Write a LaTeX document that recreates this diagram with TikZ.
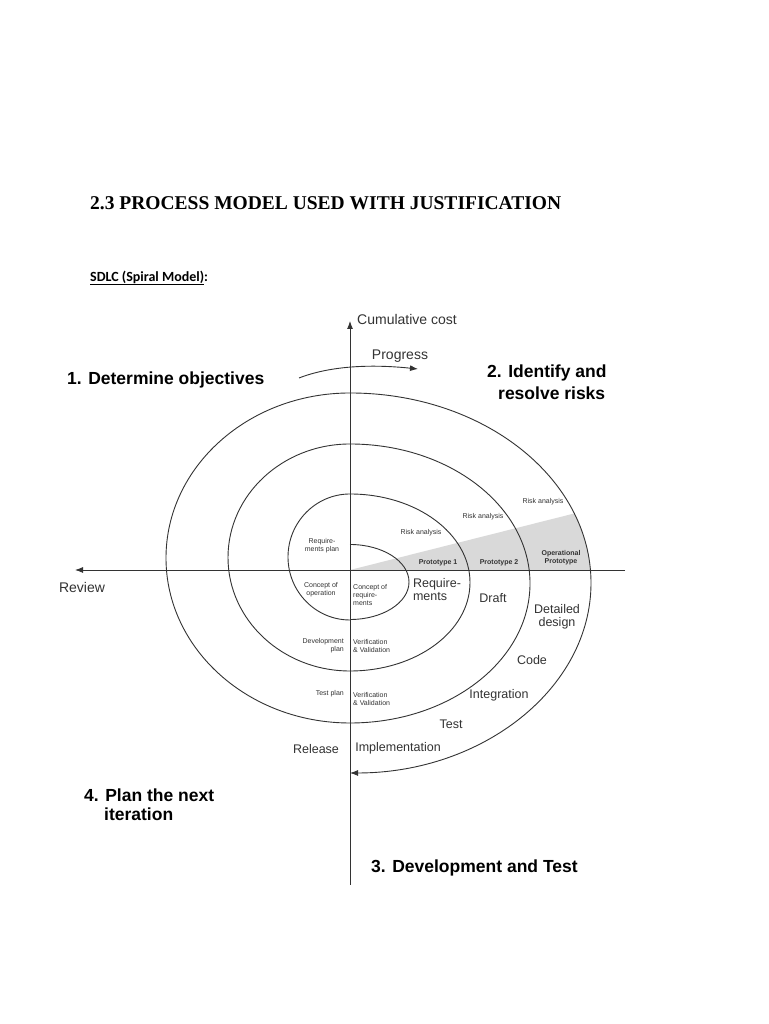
\documentclass[tikz,border=0pt]{standalone}
\usepackage{fontspec}
\setmainfont{Liberation Sans}
\newfontfamily\serifbf{Liberation Serif}
\newfontfamily\calib{Carlito}
\usetikzlibrary{arrows.meta}
\begin{document}
\begin{tikzpicture}[x=1pt,y=1pt,
  spiral/.style={line width=0.9pt,black!80},
  head/.style={font=\fontsize{17.5}{19}\selectfont\bfseries,inner sep=0pt,align=left},
  mid/.style={font=\fontsize{12.5}{13}\selectfont,text=black!80,inner sep=0pt},
  small/.style={font=\fontsize{7}{8}\selectfont,text=black!80,inner sep=0pt}]
\useasboundingbox[fill=white] (0,0) rectangle (768,1024);
% shaded wedge
\begin{scope}
\clip (350,441) ellipse [x radius=241, y radius=190];
\fill[black!15] (350,454) -- (600,517) -- (600,454) -- cycle;
\end{scope}
% axes
\coordinate (vb) at (350,139); \coordinate (vt) at (350,703);
\coordinate (hr) at (625,454); \coordinate (hl) at (75,454);
\draw[spiral,-{Latex[length=8pt,width=6pt]}] (vb) -- (vt);
\draw[spiral,-{Latex[length=8pt,width=6pt]}] (hr) -- (hl);
% spiral
\draw[spiral] (350,479.5) arc[start angle=90,end angle=-90,x radius=59,y radius=37.5];
\draw[spiral] (350,404) arc[start angle=-90,end angle=-270,x radius=62,y radius=63];
\draw[spiral] (350,530) arc[start angle=90,end angle=-90,x radius=120,y radius=88.5];
\draw[spiral] (350,353) arc[start angle=270,end angle=90,x radius=122,y radius=113.5];
\draw[spiral] (350,580) arc[start angle=90,end angle=-90,x radius=180,y radius=139.5];
\draw[spiral] (350,301) arc[start angle=270,end angle=90,x radius=184,y radius=165];
\draw[spiral,-{Latex[length=8pt,width=6pt]}] (350,631) arc[start angle=90,end angle=-90,x radius=241,y radius=190];
% progress arrow
\coordinate (p1) at (299,646); \coordinate (p2) at (418,655);
\draw[spiral,-{Latex[length=8pt,width=6pt]}] (p1) .. controls (330,658) and (370,660) .. (p2);
% titles
\node[anchor=west,inner sep=0pt,font=\serifbf\fontsize{19.5}{21}\selectfont\bfseries] (title) at (90,821) {2.3 PROCESS MODEL USED WITH JUSTIFICATION};
\node[anchor=west,inner sep=0pt,font=\calib\fontsize{14}{16}\selectfont\bfseries] (sdlc) at (90,746) {\underline{SDLC (Spiral Model)}:};
% headings
\node[head,anchor=west] (h1) at (67,644) {1. Determine objectives};
\node[head,anchor=west] (h2) at (487,651) {2. Identify and};
\node[head,anchor=west] (h2b) at (498,631) {resolve risks};
\node[head,anchor=west] (h4) at (84,229) {4. Plan the next};
\node[head,anchor=west] (h4b) at (104,210) {iteration};
\node[head,anchor=west] (h3) at (371,156) {3. Development and Test};
% medium labels
\node[mid,font=\fontsize{14}{15}\selectfont] (cc) at (407,704) {Cumulative cost};
\node[mid,font=\fontsize{14}{15}\selectfont] (pr) at (400,668) {Progress};
\node[mid,font=\fontsize{14}{15}\selectfont] (rv) at (82,436) {Review};
\node[mid,align=left] (rq) at (437,434) {Require-\\ments};
\node[mid] (dr) at (493,426) {Draft};
\node[mid,align=center] (dd) at (557,407) {Detailed\\design};
\node[mid] (cd) at (532,364) {Code};
\node[mid] (ig) at (499,329) {Integration};
\node[mid] (ts) at (451,300) {Test};
\node[mid] (im) at (398,276) {Implementation};
\node[mid] (rl) at (316,275) {Release};
% small labels
\node[small,align=center] (rp) at (322,478) {Require-\\ments plan};
\node[small] (ra1) at (421,491) {Risk analysis};
\node[small] (ra2) at (483,507) {Risk analysis};
\node[small] (ra3) at (543,522) {Risk analysis};
\node[small,font=\fontsize{7}{8}\selectfont\bfseries] (p1l) at (438,461) {Prototype 1};
\node[small,font=\fontsize{7}{8}\selectfont\bfseries] (p2l) at (499,461) {Prototype 2};
\node[small,font=\fontsize{7}{8}\selectfont\bfseries,align=center] (op) at (561,466) {Operational\\Prototype};
\node[small,align=center] (co) at (321,434) {Concept of\\operation};
\node[small,align=left,anchor=west] (cr) at (353,429) {Concept of\\require-\\ments};
\node[small,align=right,anchor=east] (dp) at (344,378) {Development\\plan};
\node[small,align=left,anchor=west] (vv1) at (353,378) {Verification\\\& Validation};
\node[small,anchor=east] (tp) at (344,330) {Test plan};
\node[small,align=left,anchor=west] (vv2) at (353,325) {Verification\\\& Validation};
\end{tikzpicture}
\end{document}
